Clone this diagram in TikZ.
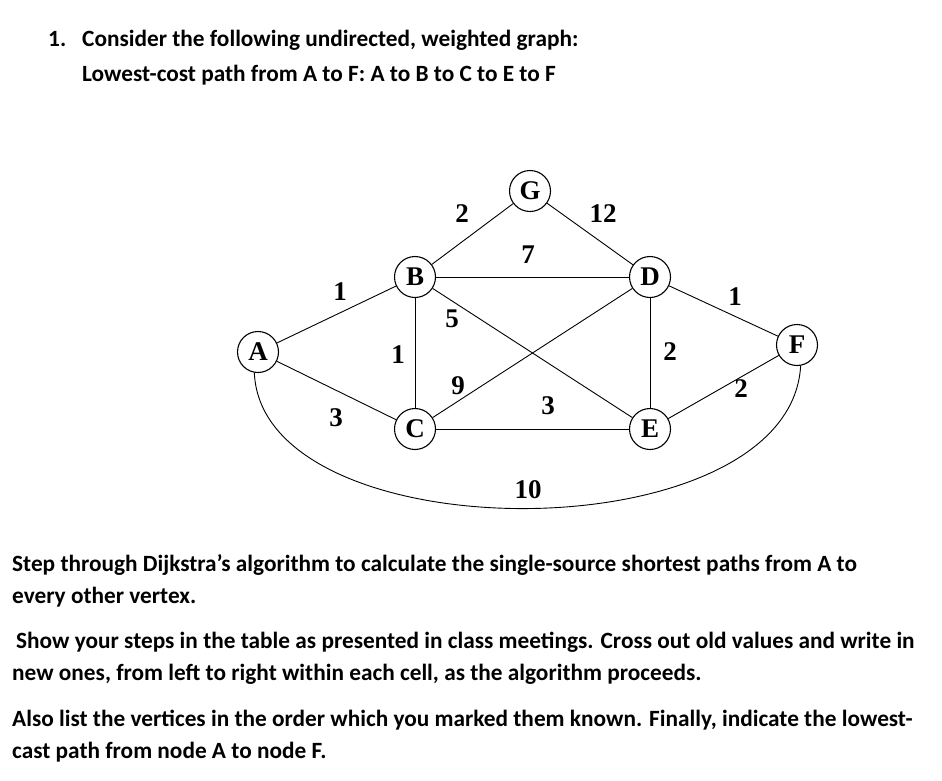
\documentclass[tikz,border=0pt]{standalone}
\usepackage{fontspec}
\setmainfont{Carlito}
\newfontfamily\gfont{Liberation Serif}
\begin{document}
\begin{tikzpicture}[x=1pt,y=-1pt,
  vtx/.style={circle,draw,line width=1.1pt,minimum size=41pt,inner sep=0pt,font=\gfont\bfseries\fontsize{27}{27}\selectfont},
  edge/.style={line width=0.9pt},
  wt/.style={font=\gfont\bfseries\fontsize{27}{27}\selectfont,inner sep=0pt},
  txt/.style={anchor=base west,inner sep=0pt,font=\bfseries\fontsize{23.3}{26}\selectfont}]
\useasboundingbox (0,0) rectangle (942,780);
\node[txt] (t1) at (48,46) {1.};
\node[txt] (t2) at (82,46) {Consider the following undirected, weighted graph:};
\node[txt] (t3) at (82,81) {Lowest-cost path from A to F: A to B to C to E to F};
\node[txt] (p1) at (12,571) {Step through Dijkstra’s algorithm to calculate the single-source shortest paths from A to};
\node[txt] (p2) at (12,603) {every other vertex.};
\node[txt] (p3) at (16,648) {Show your steps in the table as presented in class meetings. Cross out old values and write in};
\node[txt] (p4) at (12,680) {new ones, from left to right within each cell, as the algorithm proceeds.};
\node[txt] (p5) at (12,726) {Also list the vertices in the order which you marked them known. Finally, indicate the lowest-};
\node[txt] (p6) at (12,758) {cast path from node A to node F.};
\node[vtx] (A) at (258,352) {A};
\node[vtx] (B) at (415,277) {B};
\node[vtx] (C) at (415,429) {C};
\node[vtx] (G) at (530,191) {G};
\node[vtx] (D) at (650,277) {D};
\node[vtx] (E) at (650,429) {E};
\node[vtx] (F) at (797,345) {F};
\draw[edge] (A)--(B); \draw[edge] (A)--(C); \draw[edge] (B)--(C);
\draw[edge] (B)--(G); \draw[edge] (G)--(D); \draw[edge] (B)--(D);
\draw[edge] (B)--(E); \draw[edge] (C)--(D); \draw[edge] (C)--(E);
\draw[edge] (D)--(E); \draw[edge] (D)--(F); \draw[edge] (E)--(F);
\draw[edge] (A.-100) .. controls (262,555) and (790,555) .. (F.-80);
\node[wt] (w1) at (340,292) {1};
\node[wt] (w2) at (336,418) {3};
\node[wt] (w3) at (398,355) {1};
\node[wt] (w4) at (462,214) {2};
\node[wt] (w5) at (603,214) {12};
\node[wt] (w6) at (528,255) {7};
\node[wt] (w7) at (452,319) {5};
\node[wt] (w8) at (458,386) {9};
\node[wt] (w9) at (548,406) {3};
\node[wt] (w10) at (670,352) {2};
\node[wt] (w11) at (735,297) {1};
\node[wt] (w12) at (741,389) {2};
\node[wt] (w13) at (528,490) {10};
\end{tikzpicture}
\end{document}
